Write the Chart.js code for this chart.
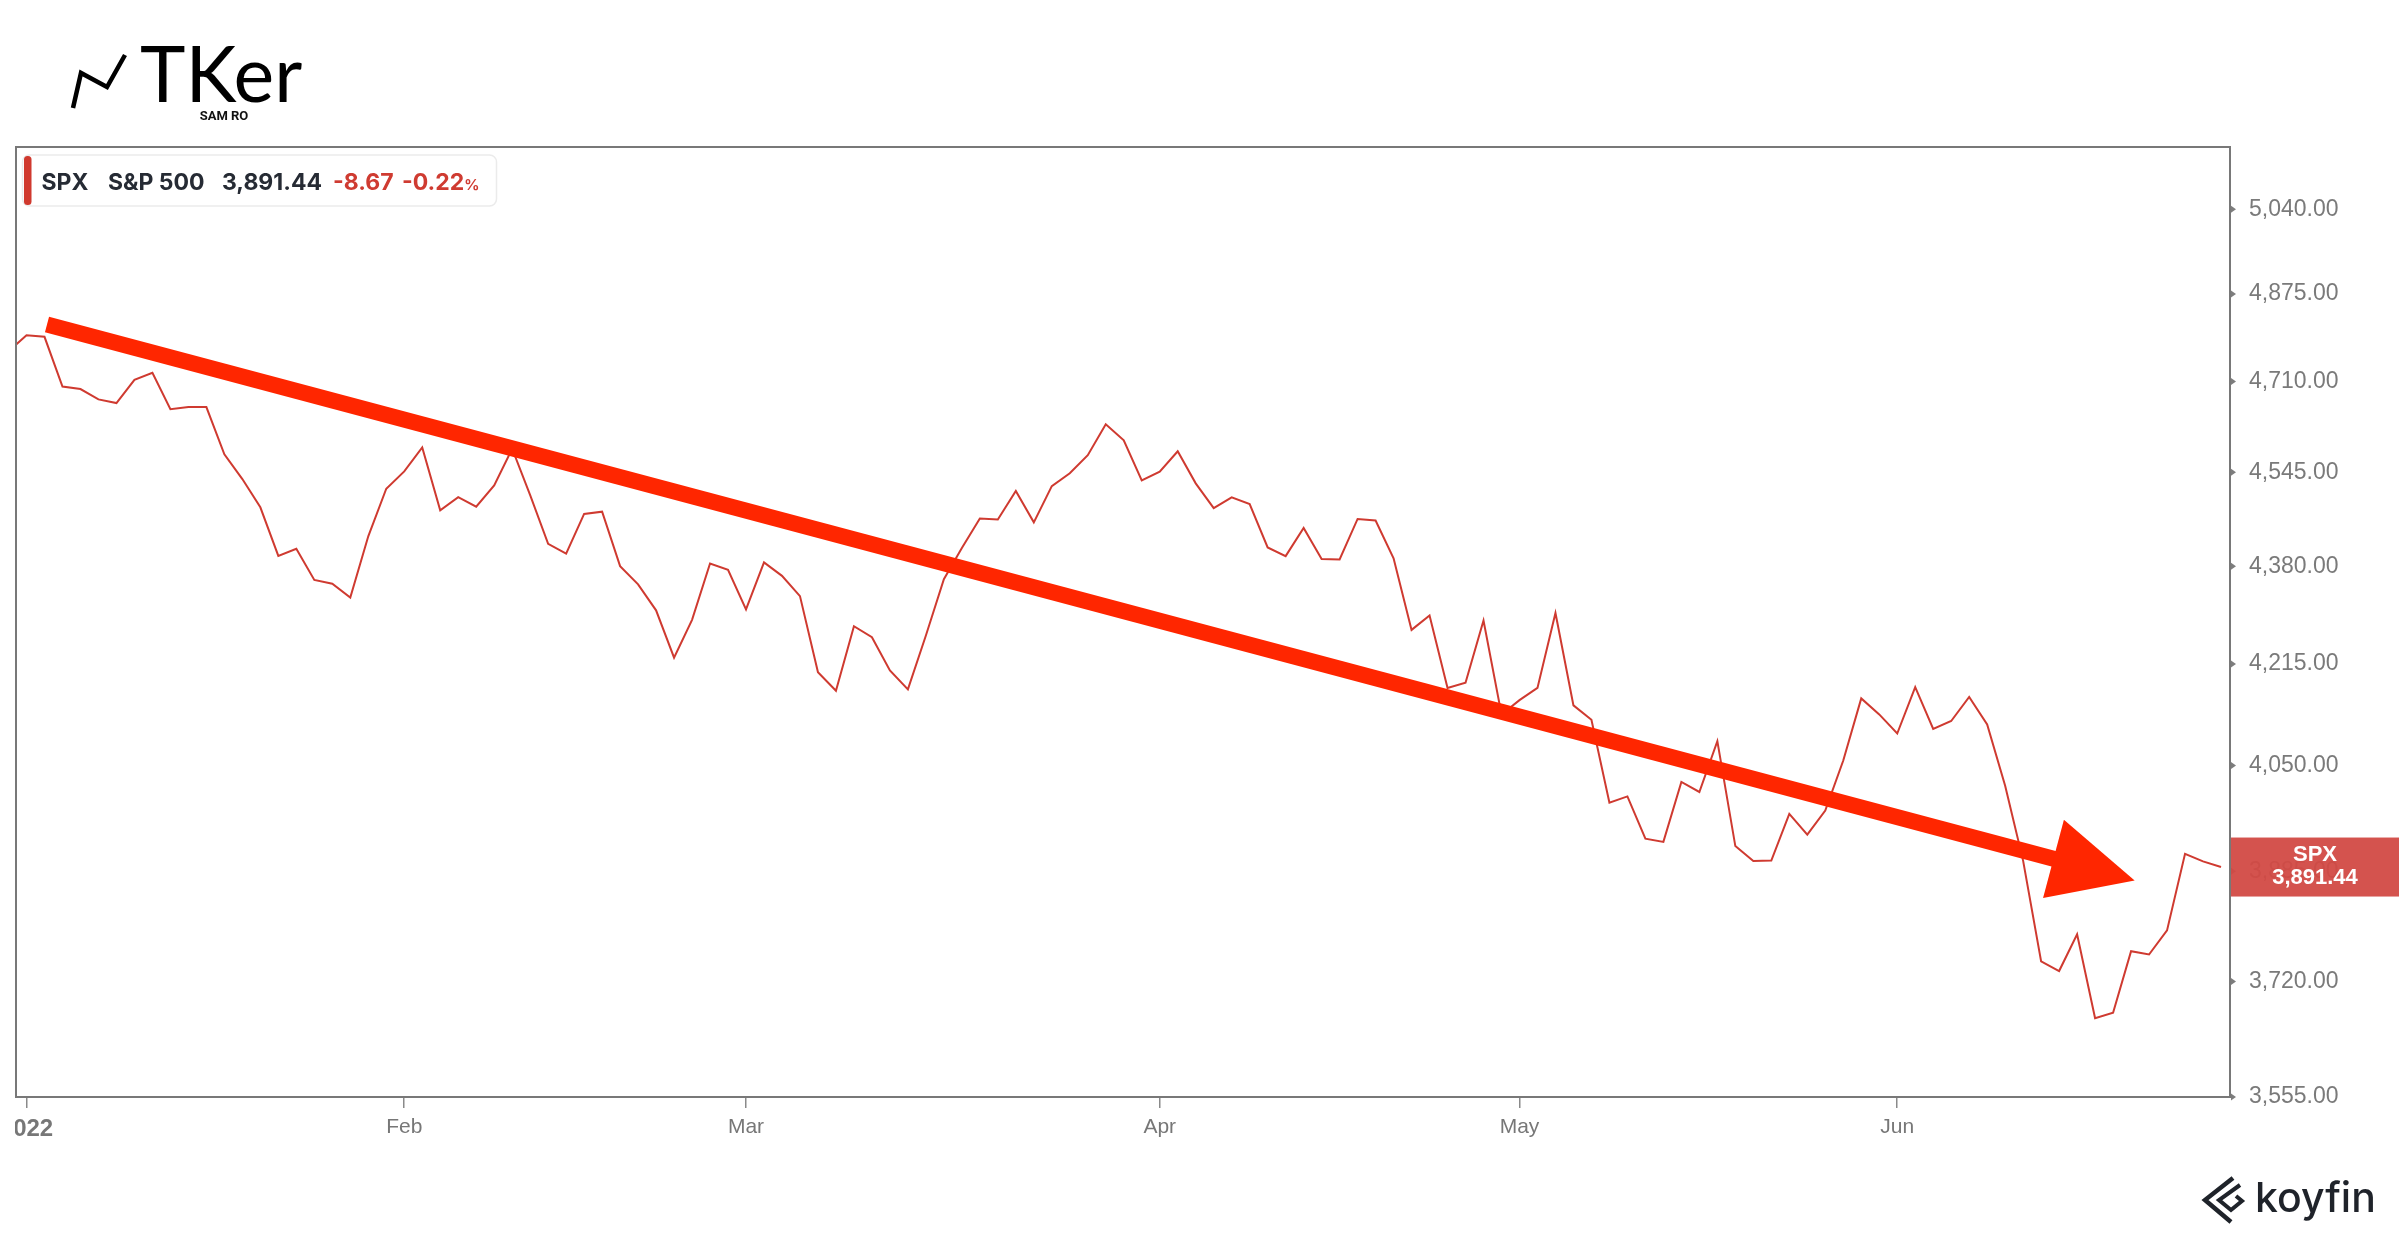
<!DOCTYPE html>
<html>
<head>
<meta charset="utf-8">
<script src="https://cdn.jsdelivr.net/npm/chart.js@4.4.1/dist/chart.umd.min.js"></script>
<style>
    html, body { margin:0; padding:0; background:#fff; }
    body { width:2400px; height:1240px; position:relative; overflow:hidden; }
    #contenedor { position:absolute; left:15px; top:0; width:2385px; height:1240px; }
    #capa { position:absolute; left:0; top:0; pointer-events:none; }
</style>
</head>
<body>
<div id="contenedor"><canvas id="grafSpx" width="2385" height="1240"></canvas></div>

<svg id="capa" width="2400" height="1240" xmlns="http://www.w3.org/2000/svg">
    <!-- logo TKer -->
    <polyline points="73,108 81,73 107,87 125,55" fill="none" stroke="#000" stroke-width="4.5"/>
    <text x="140" y="102" font-family="Lato" font-size="77" fill="#000">TKer</text>
    <text x="224" y="120" text-anchor="middle" font-family="Roboto" font-weight="700" font-size="13" fill="#111">SAM RO</text>

    <!-- leyenda -->
    <rect x="22.5" y="155" width="474" height="51" rx="7" fill="#fff" stroke="#ebebeb" stroke-width="1.5"/>
    <rect x="24" y="156" width="7.5" height="49" rx="3.5" fill="#d0392e"/>
    <text y="190" font-family="Inter" font-weight="700" font-size="23"><tspan x="41.5" fill="#262b34">SPX</tspan><tspan x="108" fill="#262b34">S&amp;P 500</tspan><tspan id="valorUlt" x="222" fill="#262b34"></tspan><tspan id="cambio" x="333" fill="#cf3b31"></tspan><tspan id="cambioPct" x="402" fill="#cf3b31"></tspan><tspan fill="#cf3b31" font-size="15">%</tspan></text>

    <!-- logo koyfin -->
    <path d="M2233,1178 L2205,1200 L2231,1222" fill="none" stroke="#1f232a" stroke-width="4.5"/>
    <path d="M2240,1185 L2219,1200 L2231,1210 L2242,1201 L2236,1196" fill="none" stroke="#1f232a" stroke-width="4"/>
    <text x="2255" y="1212" font-family="Inter" font-weight="500" font-size="41" fill="#1f232a">koyfin</text>
</svg>

<script>
// S&P 500, cierres diarios (el 17-ene repite el cierre previo)
const fechas = [
    '2021-12-31',
    '2022-01-03','2022-01-04','2022-01-05','2022-01-06','2022-01-07',
    '2022-01-10','2022-01-11','2022-01-12','2022-01-13','2022-01-14',
    '2022-01-17','2022-01-18','2022-01-19','2022-01-20','2022-01-21',
    '2022-01-24','2022-01-25','2022-01-26','2022-01-27','2022-01-28',
    '2022-01-31','2022-02-01','2022-02-02','2022-02-03','2022-02-04',
    '2022-02-07','2022-02-08','2022-02-09','2022-02-10','2022-02-11',
    '2022-02-14','2022-02-15','2022-02-16','2022-02-17','2022-02-18',
    '2022-02-22','2022-02-23','2022-02-24','2022-02-25',
    '2022-02-28','2022-03-01','2022-03-02','2022-03-03','2022-03-04',
    '2022-03-07','2022-03-08','2022-03-09','2022-03-10','2022-03-11',
    '2022-03-14','2022-03-15','2022-03-16','2022-03-17','2022-03-18',
    '2022-03-21','2022-03-22','2022-03-23','2022-03-24','2022-03-25',
    '2022-03-28','2022-03-29','2022-03-30','2022-03-31','2022-04-01',
    '2022-04-04','2022-04-05','2022-04-06','2022-04-07','2022-04-08',
    '2022-04-11','2022-04-12','2022-04-13','2022-04-14',
    '2022-04-18','2022-04-19','2022-04-20','2022-04-21','2022-04-22',
    '2022-04-25','2022-04-26','2022-04-27','2022-04-28','2022-04-29',
    '2022-05-02','2022-05-03','2022-05-04','2022-05-05','2022-05-06',
    '2022-05-09','2022-05-10','2022-05-11','2022-05-12','2022-05-13',
    '2022-05-16','2022-05-17','2022-05-18','2022-05-19','2022-05-20',
    '2022-05-23','2022-05-24','2022-05-25','2022-05-26','2022-05-27',
    '2022-05-31','2022-06-01','2022-06-02','2022-06-03',
    '2022-06-06','2022-06-07','2022-06-08','2022-06-09','2022-06-10',
    '2022-06-13','2022-06-14','2022-06-15','2022-06-16','2022-06-17',
    '2022-06-21','2022-06-22','2022-06-23','2022-06-24',
    '2022-06-27','2022-06-28'
]
const cierres = [
    4766.18,
    4796.56,4793.54,4700.58,4696.05,4677.03,
    4670.29,4713.07,4726.35,4659.03,4662.85,
    4662.85,4577.11,4532.76,4482.73,4397.94,
    4410.13,4356.45,4349.93,4326.51,4431.85,
    4515.55,4546.54,4589.38,4477.44,4500.53,
    4483.87,4521.54,4587.18,4504.08,4418.64,
    4401.67,4471.07,4475.01,4380.26,4348.87,
    4304.76,4225.50,4288.70,4384.65,
    4373.94,4306.26,4386.54,4363.49,4328.87,
    4201.09,4170.70,4277.88,4259.52,4204.31,
    4173.11,4262.45,4357.86,4411.67,4463.12,
    4461.18,4511.61,4456.24,4520.16,4543.06,
    4575.52,4631.60,4602.45,4530.41,4545.86,
    4582.64,4525.12,4481.15,4500.21,4488.28,
    4412.53,4397.45,4446.59,4392.59,
    4391.69,4462.21,4459.45,4393.66,4271.78,
    4296.12,4175.20,4183.96,4287.50,4131.93,
    4155.38,4175.48,4300.17,4146.87,4123.34,
    3991.24,4001.05,3935.18,3930.08,4023.89,
    4008.01,4088.85,3923.68,3900.79,3901.36,
    3973.75,3941.48,3978.73,4057.84,4158.24,
    4132.15,4101.23,4176.82,4108.54,
    4121.43,4160.68,4115.77,4017.82,3900.86,
    3749.63,3735.48,3789.99,3666.77,3674.84,
    3764.79,3759.89,3795.73,3911.74,
    3900.11,3891.44
]
const etiquetasMes = ['2022','Feb','Mar','Apr','May','Jun']
const fechasMes = ['2022-01-03','2022-02-01','2022-03-01','2022-04-01','2022-05-02','2022-06-01']
const ticksPrecio = [3555,3720,3885,4050,4215,4380,4545,4710,4875,5040]
// flecha de tendencia: [indice de dia, precio]
const flechaDesde = [2.14, 4817]
const flechaHasta = [118.2, 3871]

const formato = v => v.toLocaleString('en-US',{minimumFractionDigits:2, maximumFractionDigits:2})

let ultimo = cierres[cierres.length-1]
let previo = cierres[cierres.length-2]
document.getElementById('valorUlt').textContent = formato(ultimo)
document.getElementById('cambio').textContent = (ultimo-previo).toFixed(2)
document.getElementById('cambioPct').textContent = ((ultimo-previo)/previo*100).toFixed(2)

Chart.defaults.font.family = "'Liberation Sans', Arial, sans-serif"

const marco = {
    id:'marco',
    afterDraw(chart){
        const {ctx, chartArea:a, scales:{x, y}} = chart
        ctx.save()

        // caja del grafico
        ctx.strokeStyle = '#787878'
        ctx.lineWidth = 2
        ctx.strokeRect(a.left, a.top, a.right-a.left, a.bottom-a.top)

        // marcas triangulares del eje de precios
        ctx.fillStyle = '#7d7d7d'
        ticksPrecio.forEach(v => {
            let py = y.getPixelForValue(v)
            ctx.beginPath()
            ctx.moveTo(a.right+1, py-3.5)
            ctx.lineTo(a.right+6, py)
            ctx.lineTo(a.right+1, py+3.5)
            ctx.fill()
        })

        // flecha
        let x1 = x.getPixelForValue(flechaDesde[0]), y1 = y.getPixelForValue(flechaDesde[1])
        let x2 = x.getPixelForValue(flechaHasta[0]), y2 = y.getPixelForValue(flechaHasta[1])
        let largo = Math.hypot(x2-x1, y2-y1)
        let ux = (x2-x1)/largo, uy = (y2-y1)/largo
        let px = -uy, py = ux
        let cabeza = 84, ancho = 81, grosor = 16
        let bx = x2 - ux*cabeza, by = y2 - uy*cabeza
        ctx.fillStyle = '#ff2600'
        ctx.beginPath()
        ctx.moveTo(x1 + px*grosor/2, y1 + py*grosor/2)
        ctx.lineTo(bx + ux*4 + px*grosor/2, by + uy*4 + py*grosor/2)
        ctx.lineTo(bx + ux*4 - px*grosor/2, by + uy*4 - py*grosor/2)
        ctx.lineTo(x1 - px*grosor/2, y1 - py*grosor/2)
        ctx.closePath()
        ctx.fill()
        ctx.beginPath()
        ctx.moveTo(bx + px*ancho/2, by + py*ancho/2)
        ctx.lineTo(x2, y2)
        ctx.lineTo(bx - px*ancho/2, by - py*ancho/2)
        ctx.closePath()
        ctx.fill()

        // etiqueta del ultimo precio
        let yUlt = y.getPixelForValue(ultimo)
        let izq = a.right+1, anchoEtq = chart.width - izq - 1
        ctx.fillStyle = 'rgba(210,74,68,0.95)'
        ctx.fillRect(izq, yUlt-29.5, anchoEtq, 59)
        ctx.fillStyle = '#fff'
        ctx.font = "bold 22px 'Liberation Sans', Arial, sans-serif"
        ctx.textAlign = 'center'
        ctx.textBaseline = 'middle'
        ctx.fillText('SPX', izq + anchoEtq/2, yUlt-12)
        ctx.fillText(formato(ultimo), izq + anchoEtq/2, yUlt+11)

        ctx.restore()
    }
}

let grafSpx = document.getElementById('grafSpx')
let tablaSpx = new Chart(grafSpx, {
    type:'line',
    data:{
        datasets:[{
            label:'SPX',
            data: cierres.map((v,i) => ({x:i, y:v})),
            borderColor:'#cf3a30',
            borderWidth:2,
            pointRadius:0,
            tension:0,
        }]
    },
    options:{
        responsive:false,
        animation:false,
        devicePixelRatio:1,
        layout:{ padding:{ left:1, top:147, right:0, bottom:0 } },
        plugins:{
            legend:{ display:false },
            tooltip:{ enabled:false },
        },
        scales:{
            x:{
                type:'linear',
                min:0.416,
                max:123.5,
                bounds:'data',
                afterBuildTicks: s => { s.ticks = fechasMes.map(f => ({value: fechas.indexOf(f)})) },
                afterFit: s => { s.height = 143; s.paddingLeft = 0; s.paddingRight = 0 },
                grid:{
                    display:true,
                    drawOnChartArea:false,
                    drawTicks:true,
                    tickLength:11,
                    color:'#8a8a8a',
                    lineWidth:1.5,
                },
                border:{ display:false },
                ticks:{
                    autoSkip:false,
                    maxRotation:0,
                    padding:7,
                    color:'#777',
                    font: c => c.index === 0 ? {size:24, weight:'bold'} : {size:21},
                    callback: (v, i) => etiquetasMes[i],
                },
            },
            y:{
                type:'logarithmic',
                position:'right',
                min:3555,
                max:5165,
                bounds:'data',
                afterBuildTicks: s => { s.ticks = ticksPrecio.map(v => ({value:v})) },
                afterFit: s => { s.width = 170; s.paddingTop = 0; s.paddingBottom = 0 },
                grid:{ display:false, drawTicks:false },
                border:{ display:false },
                ticks:{
                    autoSkip:false,
                    padding:19,
                    color:'#7a7a7a',
                    font:{ size:23 },
                    callback: v => formato(v),
                },
            },
        },
    },
    plugins:[marco]
})
</script>
</body>
</html>
